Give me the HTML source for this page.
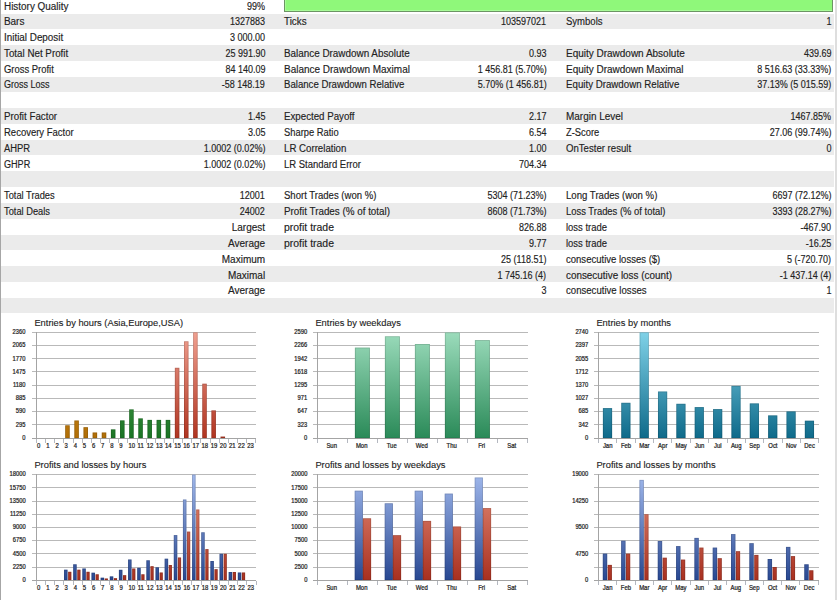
<!DOCTYPE html>
<html><head><meta charset="utf-8"><style>
html,body{margin:0;padding:0;background:#fff;}
body{width:837px;height:600px;position:relative;overflow:hidden;font-family:"Liberation Sans",sans-serif;}
.r{position:absolute;left:1px;width:833px;}
.g{background:#ebebeb;}
.t{position:absolute;font-size:10px;color:#222;-webkit-text-stroke:0.15px #222;white-space:pre;line-height:12px;}
.l{text-align:left;}
.n{transform:scaleX(0.9);transform-origin:right center;}
</style></head><body>

<div class="r g" style="top:13.60px;height:15.6px"></div>
<div class="r g" style="top:45.16px;height:15.6px"></div>
<div class="r g" style="top:76.72px;height:15.6px"></div>
<div class="r g" style="top:108.28px;height:15.6px"></div>
<div class="r g" style="top:139.84px;height:15.6px"></div>
<div class="r g" style="top:171.40px;height:15.6px"></div>
<div class="r g" style="top:202.96px;height:15.6px"></div>
<div class="r g" style="top:234.52px;height:15.6px"></div>
<div class="r g" style="top:266.08px;height:15.6px"></div>
<div class="r g" style="top:297.64px;height:15.6px"></div>
<div class="t" style="left:3.9px;top:1.06px;transform:scaleX(0.992);transform-origin:left center;">History Quality</div>
<div class="t n" style="right:571.90px;top:1.06px">99%</div>
<div class="t" style="left:3.9px;top:16.10px;">Bars</div>
<div class="t n" style="right:571.90px;top:16.10px">1327883</div>
<div class="t" style="left:284.4px;top:16.10px;transform:scaleX(0.983);transform-origin:left center;">Ticks</div>
<div class="t n" style="right:290.70px;top:16.10px">103597021</div>
<div class="t" style="left:566.3px;top:16.10px;transform:scaleX(0.953);transform-origin:left center;">Symbols</div>
<div class="t n" style="right:5.90px;top:16.10px">1</div>
<div class="t" style="left:3.9px;top:31.94px;transform:scaleX(0.986);transform-origin:left center;">Initial Deposit</div>
<div class="t n" style="right:571.90px;top:31.94px">3 000.00</div>
<div class="t" style="left:3.9px;top:47.78px;transform:scaleX(0.979);transform-origin:left center;">Total Net Profit</div>
<div class="t n" style="right:571.90px;top:47.78px">25 991.90</div>
<div class="t" style="left:284.4px;top:47.78px;transform:scaleX(0.988);transform-origin:left center;">Balance Drawdown Absolute</div>
<div class="t n" style="right:290.70px;top:47.78px">0.93</div>
<div class="t" style="left:566.3px;top:47.78px;transform:scaleX(0.998);transform-origin:left center;">Equity Drawdown Absolute</div>
<div class="t n" style="right:5.90px;top:47.78px">439.69</div>
<div class="t" style="left:3.9px;top:63.62px;transform:scaleX(0.943);transform-origin:left center;">Gross Profit</div>
<div class="t n" style="right:571.90px;top:63.62px">84 140.09</div>
<div class="t" style="left:284.4px;top:63.62px;transform:scaleX(0.998);transform-origin:left center;">Balance Drawdown Maximal</div>
<div class="t n" style="right:290.70px;top:63.62px">1 456.81 (5.70%)</div>
<div class="t" style="left:566.3px;top:63.62px;transform:scaleX(0.997);transform-origin:left center;">Equity Drawdown Maximal</div>
<div class="t n" style="right:5.90px;top:63.62px">8 516.63 (33.33%)</div>
<div class="t" style="left:3.9px;top:79.46px;transform:scaleX(0.902);transform-origin:left center;">Gross Loss</div>
<div class="t n" style="right:571.90px;top:79.46px">-58 148.19</div>
<div class="t" style="left:284.4px;top:79.46px;transform:scaleX(0.962);transform-origin:left center;">Balance Drawdown Relative</div>
<div class="t n" style="right:290.70px;top:79.46px">5.70% (1 456.81)</div>
<div class="t" style="left:566.3px;top:79.46px;transform:scaleX(0.971);transform-origin:left center;">Equity Drawdown Relative</div>
<div class="t n" style="right:5.90px;top:79.46px">37.13% (5 015.59)</div>
<div class="t" style="left:3.9px;top:111.14px;transform:scaleX(0.974);transform-origin:left center;">Profit Factor</div>
<div class="t n" style="right:571.90px;top:111.14px">1.45</div>
<div class="t" style="left:284.4px;top:111.14px;transform:scaleX(0.971);transform-origin:left center;">Expected Payoff</div>
<div class="t n" style="right:290.70px;top:111.14px">2.17</div>
<div class="t" style="left:566.3px;top:111.14px;transform:scaleX(0.995);transform-origin:left center;">Margin Level</div>
<div class="t n" style="right:5.90px;top:111.14px">1467.85%</div>
<div class="t" style="left:3.9px;top:126.98px;transform:scaleX(0.949);transform-origin:left center;">Recovery Factor</div>
<div class="t n" style="right:571.90px;top:126.98px">3.05</div>
<div class="t" style="left:284.4px;top:126.98px;transform:scaleX(0.936);transform-origin:left center;">Sharpe Ratio</div>
<div class="t n" style="right:290.70px;top:126.98px">6.54</div>
<div class="t" style="left:566.3px;top:126.98px;transform:scaleX(0.936);transform-origin:left center;">Z-Score</div>
<div class="t n" style="right:5.90px;top:126.98px">27.06 (99.74%)</div>
<div class="t" style="left:3.9px;top:142.82px;transform:scaleX(0.941);transform-origin:left center;">AHPR</div>
<div class="t n" style="right:571.90px;top:142.82px">1.0002 (0.02%)</div>
<div class="t" style="left:284.4px;top:142.82px;transform:scaleX(0.967);transform-origin:left center;">LR Correlation</div>
<div class="t n" style="right:290.70px;top:142.82px">1.00</div>
<div class="t" style="left:566.3px;top:142.82px;transform:scaleX(0.96);transform-origin:left center;">OnTester result</div>
<div class="t n" style="right:5.90px;top:142.82px">0</div>
<div class="t" style="left:3.9px;top:158.66px;transform:scaleX(0.907);transform-origin:left center;">GHPR</div>
<div class="t n" style="right:571.90px;top:158.66px">1.0002 (0.02%)</div>
<div class="t" style="left:284.4px;top:158.66px;transform:scaleX(0.948);transform-origin:left center;">LR Standard Error</div>
<div class="t n" style="right:290.70px;top:158.66px">704.34</div>
<div class="t" style="left:3.9px;top:190.34px;transform:scaleX(0.93);transform-origin:left center;">Total Trades</div>
<div class="t n" style="right:571.90px;top:190.34px">12001</div>
<div class="t" style="left:284.4px;top:190.34px;transform:scaleX(0.955);transform-origin:left center;">Short Trades (won %)</div>
<div class="t n" style="right:290.70px;top:190.34px">5304 (71.23%)</div>
<div class="t" style="left:566.3px;top:190.34px;transform:scaleX(0.961);transform-origin:left center;">Long Trades (won %)</div>
<div class="t n" style="right:5.90px;top:190.34px">6697 (72.12%)</div>
<div class="t" style="left:3.9px;top:206.18px;transform:scaleX(0.929);transform-origin:left center;">Total Deals</div>
<div class="t n" style="right:571.90px;top:206.18px">24002</div>
<div class="t" style="left:284.4px;top:206.18px;transform:scaleX(0.983);transform-origin:left center;">Profit Trades (% of total)</div>
<div class="t n" style="right:290.70px;top:206.18px">8608 (71.73%)</div>
<div class="t" style="left:566.3px;top:206.18px;transform:scaleX(0.942);transform-origin:left center;">Loss Trades (% of total)</div>
<div class="t n" style="right:5.90px;top:206.18px">3393 (28.27%)</div>
<div class="t" style="right:571.90px;top:222.02px">Largest</div>
<div class="t" style="left:284.4px;top:222.02px;transform:scaleX(1.045);transform-origin:left center;">profit trade</div>
<div class="t n" style="right:290.70px;top:222.02px">826.88</div>
<div class="t" style="left:566.3px;top:222.02px;transform:scaleX(0.944);transform-origin:left center;">loss trade</div>
<div class="t n" style="right:5.90px;top:222.02px">-467.90</div>
<div class="t" style="right:571.90px;top:237.86px">Average</div>
<div class="t" style="left:284.4px;top:237.86px;transform:scaleX(1.045);transform-origin:left center;">profit trade</div>
<div class="t n" style="right:290.70px;top:237.86px">9.77</div>
<div class="t" style="left:566.3px;top:237.86px;transform:scaleX(0.944);transform-origin:left center;">loss trade</div>
<div class="t n" style="right:5.90px;top:237.86px">-16.25</div>
<div class="t" style="right:571.90px;top:253.70px">Maximum</div>
<div class="t n" style="right:290.70px;top:253.70px">25 (118.51)</div>
<div class="t" style="left:566.3px;top:253.70px;transform:scaleX(0.953);transform-origin:left center;">consecutive losses ($)</div>
<div class="t n" style="right:5.90px;top:253.70px">5 (-720.70)</div>
<div class="t" style="right:571.90px;top:269.54px">Maximal</div>
<div class="t n" style="right:290.70px;top:269.54px">1 745.16 (4)</div>
<div class="t" style="left:566.3px;top:269.54px;transform:scaleX(0.988);transform-origin:left center;">consecutive loss (count)</div>
<div class="t n" style="right:5.90px;top:269.54px">-1 437.14 (4)</div>
<div class="t" style="right:571.90px;top:285.38px">Average</div>
<div class="t n" style="right:290.70px;top:285.38px">3</div>
<div class="t" style="left:566.3px;top:285.38px;transform:scaleX(0.96);transform-origin:left center;">consecutive losses</div>
<div class="t n" style="right:5.90px;top:285.38px">1</div>
<div style="position:absolute;left:284px;top:-3px;width:549px;height:15px;background:#6c9464;"></div>
<div style="position:absolute;left:285px;top:-3px;width:547px;height:14px;background:#a8fb98;"></div>
<div style="position:absolute;left:286px;top:-3px;width:546px;height:13px;background:#8ff87a;"></div>
<div style="position:absolute;left:0;top:0;width:1px;height:600px;background:#a6a6a6"></div>
<div style="position:absolute;left:835px;top:0;width:2px;height:600px;background:#dedede"></div>
<svg width="837" height="600" style="position:absolute;left:0;top:0">
<defs>
<linearGradient id="gOr" gradientUnits="userSpaceOnUse" x1="0" y1="332" x2="0" y2="438"><stop offset="0" stop-color="#e8a030"/><stop offset="1" stop-color="#b06e06"/></linearGradient>
<linearGradient id="gGr" gradientUnits="userSpaceOnUse" x1="0" y1="332" x2="0" y2="438"><stop offset="0" stop-color="#60b060"/><stop offset="1" stop-color="#1a7424"/></linearGradient>
<linearGradient id="gRd" gradientUnits="userSpaceOnUse" x1="0" y1="332" x2="0" y2="438"><stop offset="0" stop-color="#f0a090"/><stop offset="1" stop-color="#b03420"/></linearGradient>
<linearGradient id="gMt" gradientUnits="userSpaceOnUse" x1="0" y1="332" x2="0" y2="438"><stop offset="0" stop-color="#9cdcbc"/><stop offset="1" stop-color="#2a8a58"/></linearGradient>
<linearGradient id="gTl" gradientUnits="userSpaceOnUse" x1="0" y1="332" x2="0" y2="438"><stop offset="0" stop-color="#80d2e8"/><stop offset="1" stop-color="#0e6a8a"/></linearGradient>
<linearGradient id="gBl" gradientUnits="userSpaceOnUse" x1="0" y1="474" x2="0" y2="580"><stop offset="0" stop-color="#a0b8ec"/><stop offset="1" stop-color="#284892"/></linearGradient>
<linearGradient id="gRl" gradientUnits="userSpaceOnUse" x1="0" y1="474" x2="0" y2="580"><stop offset="0" stop-color="#e8907a"/><stop offset="1" stop-color="#a83020"/></linearGradient>
</defs>
<text x="34.40" y="325.60" font-size="9.4" fill="#222" stroke="#222" stroke-width="0.12" transform="translate(34.40,0) scale(0.992,1) translate(-34.40,0)">Entries by hours (Asia,Europe,USA)</text>
<rect x="32" y="332" width="224" height="1" fill="#b9b9b9"/>
<rect x="32" y="345" width="224" height="1" fill="#b9b9b9"/>
<rect x="32" y="358" width="224" height="1" fill="#b9b9b9"/>
<rect x="32" y="371" width="224" height="1" fill="#b9b9b9"/>
<rect x="32" y="385" width="224" height="1" fill="#b9b9b9"/>
<rect x="32" y="398" width="224" height="1" fill="#b9b9b9"/>
<rect x="32" y="411" width="224" height="1" fill="#b9b9b9"/>
<rect x="32" y="424" width="224" height="1" fill="#b9b9b9"/>
<rect x="32" y="438" width="224" height="1" fill="#b9b9b9"/>
<text x="25.50" y="334.10" font-size="7" fill="#1e1e1e" stroke="#1e1e1e" stroke-width="0.25" text-anchor="end" transform="translate(25.50,0) scale(0.83,1) translate(-25.50,0)">2360</text>
<text x="25.50" y="347.31" font-size="7" fill="#1e1e1e" stroke="#1e1e1e" stroke-width="0.25" text-anchor="end" transform="translate(25.50,0) scale(0.83,1) translate(-25.50,0)">2065</text>
<text x="25.50" y="360.53" font-size="7" fill="#1e1e1e" stroke="#1e1e1e" stroke-width="0.25" text-anchor="end" transform="translate(25.50,0) scale(0.83,1) translate(-25.50,0)">1770</text>
<text x="25.50" y="373.74" font-size="7" fill="#1e1e1e" stroke="#1e1e1e" stroke-width="0.25" text-anchor="end" transform="translate(25.50,0) scale(0.83,1) translate(-25.50,0)">1475</text>
<text x="25.50" y="386.95" font-size="7" fill="#1e1e1e" stroke="#1e1e1e" stroke-width="0.25" text-anchor="end" transform="translate(25.50,0) scale(0.83,1) translate(-25.50,0)">1180</text>
<text x="25.50" y="400.16" font-size="7" fill="#1e1e1e" stroke="#1e1e1e" stroke-width="0.25" text-anchor="end" transform="translate(25.50,0) scale(0.83,1) translate(-25.50,0)">885</text>
<text x="25.50" y="413.38" font-size="7" fill="#1e1e1e" stroke="#1e1e1e" stroke-width="0.25" text-anchor="end" transform="translate(25.50,0) scale(0.83,1) translate(-25.50,0)">590</text>
<text x="25.50" y="426.59" font-size="7" fill="#1e1e1e" stroke="#1e1e1e" stroke-width="0.25" text-anchor="end" transform="translate(25.50,0) scale(0.83,1) translate(-25.50,0)">295</text>
<text x="25.50" y="439.80" font-size="7" fill="#1e1e1e" stroke="#1e1e1e" stroke-width="0.25" text-anchor="end" transform="translate(25.50,0) scale(0.83,1) translate(-25.50,0)">0</text>
<rect x="36" y="332" width="1" height="111" fill="#a4a4a4"/>
<rect x="32" y="438" width="224" height="1" fill="#a4a4a4"/>
<rect x="36" y="439" width="1" height="4" fill="#b4b8c0"/>
<rect x="45" y="439" width="1" height="4" fill="#b4b8c0"/>
<rect x="54" y="439" width="1" height="4" fill="#b4b8c0"/>
<rect x="63" y="439" width="1" height="4" fill="#b4b8c0"/>
<rect x="73" y="439" width="1" height="4" fill="#b4b8c0"/>
<rect x="82" y="439" width="1" height="4" fill="#b4b8c0"/>
<rect x="91" y="439" width="1" height="4" fill="#b4b8c0"/>
<rect x="100" y="439" width="1" height="4" fill="#b4b8c0"/>
<rect x="109" y="439" width="1" height="4" fill="#b4b8c0"/>
<rect x="118" y="439" width="1" height="4" fill="#b4b8c0"/>
<rect x="127" y="439" width="1" height="4" fill="#b4b8c0"/>
<rect x="137" y="439" width="1" height="4" fill="#b4b8c0"/>
<rect x="146" y="439" width="1" height="4" fill="#b4b8c0"/>
<rect x="155" y="439" width="1" height="4" fill="#b4b8c0"/>
<rect x="164" y="439" width="1" height="4" fill="#b4b8c0"/>
<rect x="173" y="439" width="1" height="4" fill="#b4b8c0"/>
<rect x="182" y="439" width="1" height="4" fill="#b4b8c0"/>
<rect x="191" y="439" width="1" height="4" fill="#b4b8c0"/>
<rect x="200" y="439" width="1" height="4" fill="#b4b8c0"/>
<rect x="210" y="439" width="1" height="4" fill="#b4b8c0"/>
<rect x="219" y="439" width="1" height="4" fill="#b4b8c0"/>
<rect x="228" y="439" width="1" height="4" fill="#b4b8c0"/>
<rect x="237" y="439" width="1" height="4" fill="#b4b8c0"/>
<rect x="246" y="439" width="1" height="4" fill="#b4b8c0"/>
<rect x="255" y="439" width="1" height="4" fill="#b4b8c0"/>
<text x="37.10" y="447.80" font-size="7" fill="#1e1e1e" stroke="#1e1e1e" stroke-width="0.25" transform="translate(37.10,0) scale(0.85,1) translate(-37.10,0)">0</text>
<text x="46.24" y="447.80" font-size="7" fill="#1e1e1e" stroke="#1e1e1e" stroke-width="0.25" transform="translate(46.24,0) scale(0.85,1) translate(-46.24,0)">1</text>
<text x="55.38" y="447.80" font-size="7" fill="#1e1e1e" stroke="#1e1e1e" stroke-width="0.25" transform="translate(55.38,0) scale(0.85,1) translate(-55.38,0)">2</text>
<text x="64.51" y="447.80" font-size="7" fill="#1e1e1e" stroke="#1e1e1e" stroke-width="0.25" transform="translate(64.51,0) scale(0.85,1) translate(-64.51,0)">3</text>
<text x="73.65" y="447.80" font-size="7" fill="#1e1e1e" stroke="#1e1e1e" stroke-width="0.25" transform="translate(73.65,0) scale(0.85,1) translate(-73.65,0)">4</text>
<text x="82.79" y="447.80" font-size="7" fill="#1e1e1e" stroke="#1e1e1e" stroke-width="0.25" transform="translate(82.79,0) scale(0.85,1) translate(-82.79,0)">5</text>
<text x="91.92" y="447.80" font-size="7" fill="#1e1e1e" stroke="#1e1e1e" stroke-width="0.25" transform="translate(91.92,0) scale(0.85,1) translate(-91.92,0)">6</text>
<text x="101.06" y="447.80" font-size="7" fill="#1e1e1e" stroke="#1e1e1e" stroke-width="0.25" transform="translate(101.06,0) scale(0.85,1) translate(-101.06,0)">7</text>
<text x="110.20" y="447.80" font-size="7" fill="#1e1e1e" stroke="#1e1e1e" stroke-width="0.25" transform="translate(110.20,0) scale(0.85,1) translate(-110.20,0)">8</text>
<text x="119.34" y="447.80" font-size="7" fill="#1e1e1e" stroke="#1e1e1e" stroke-width="0.25" transform="translate(119.34,0) scale(0.85,1) translate(-119.34,0)">9</text>
<text x="128.48" y="447.80" font-size="7" fill="#1e1e1e" stroke="#1e1e1e" stroke-width="0.25" transform="translate(128.48,0) scale(0.85,1) translate(-128.48,0)">10</text>
<text x="137.61" y="447.80" font-size="7" fill="#1e1e1e" stroke="#1e1e1e" stroke-width="0.25" transform="translate(137.61,0) scale(0.85,1) translate(-137.61,0)">11</text>
<text x="146.75" y="447.80" font-size="7" fill="#1e1e1e" stroke="#1e1e1e" stroke-width="0.25" transform="translate(146.75,0) scale(0.85,1) translate(-146.75,0)">12</text>
<text x="155.89" y="447.80" font-size="7" fill="#1e1e1e" stroke="#1e1e1e" stroke-width="0.25" transform="translate(155.89,0) scale(0.85,1) translate(-155.89,0)">13</text>
<text x="165.03" y="447.80" font-size="7" fill="#1e1e1e" stroke="#1e1e1e" stroke-width="0.25" transform="translate(165.03,0) scale(0.85,1) translate(-165.03,0)">14</text>
<text x="174.16" y="447.80" font-size="7" fill="#1e1e1e" stroke="#1e1e1e" stroke-width="0.25" transform="translate(174.16,0) scale(0.85,1) translate(-174.16,0)">15</text>
<text x="183.30" y="447.80" font-size="7" fill="#1e1e1e" stroke="#1e1e1e" stroke-width="0.25" transform="translate(183.30,0) scale(0.85,1) translate(-183.30,0)">16</text>
<text x="192.44" y="447.80" font-size="7" fill="#1e1e1e" stroke="#1e1e1e" stroke-width="0.25" transform="translate(192.44,0) scale(0.85,1) translate(-192.44,0)">17</text>
<text x="201.58" y="447.80" font-size="7" fill="#1e1e1e" stroke="#1e1e1e" stroke-width="0.25" transform="translate(201.58,0) scale(0.85,1) translate(-201.58,0)">18</text>
<text x="210.71" y="447.80" font-size="7" fill="#1e1e1e" stroke="#1e1e1e" stroke-width="0.25" transform="translate(210.71,0) scale(0.85,1) translate(-210.71,0)">19</text>
<text x="219.85" y="447.80" font-size="7" fill="#1e1e1e" stroke="#1e1e1e" stroke-width="0.25" transform="translate(219.85,0) scale(0.85,1) translate(-219.85,0)">20</text>
<text x="228.99" y="447.80" font-size="7" fill="#1e1e1e" stroke="#1e1e1e" stroke-width="0.25" transform="translate(228.99,0) scale(0.85,1) translate(-228.99,0)">21</text>
<text x="238.13" y="447.80" font-size="7" fill="#1e1e1e" stroke="#1e1e1e" stroke-width="0.25" transform="translate(238.13,0) scale(0.85,1) translate(-238.13,0)">22</text>
<text x="247.26" y="447.80" font-size="7" fill="#1e1e1e" stroke="#1e1e1e" stroke-width="0.25" transform="translate(247.26,0) scale(0.85,1) translate(-247.26,0)">23</text>
<rect x="65.21" y="425.30" width="4.50" height="12.70" fill="url(#gOr)"/>
<rect x="65.61" y="425.70" width="3.70" height="12.30" fill="none" stroke="#000" stroke-opacity="0.16" stroke-width="0.8"/>
<rect x="74.35" y="420.50" width="4.50" height="17.50" fill="url(#gOr)"/>
<rect x="74.75" y="420.90" width="3.70" height="17.10" fill="none" stroke="#000" stroke-opacity="0.16" stroke-width="0.8"/>
<rect x="83.49" y="427.20" width="4.50" height="10.80" fill="url(#gOr)"/>
<rect x="83.89" y="427.60" width="3.70" height="10.40" fill="none" stroke="#000" stroke-opacity="0.16" stroke-width="0.8"/>
<rect x="92.62" y="432.50" width="4.50" height="5.50" fill="url(#gOr)"/>
<rect x="93.03" y="432.90" width="3.70" height="5.10" fill="none" stroke="#000" stroke-opacity="0.16" stroke-width="0.8"/>
<rect x="101.76" y="432.50" width="4.50" height="5.50" fill="url(#gOr)"/>
<rect x="102.16" y="432.90" width="3.70" height="5.10" fill="none" stroke="#000" stroke-opacity="0.16" stroke-width="0.8"/>
<rect x="110.90" y="429.40" width="4.50" height="8.60" fill="url(#gGr)"/>
<rect x="111.30" y="429.80" width="3.70" height="8.20" fill="none" stroke="#000" stroke-opacity="0.16" stroke-width="0.8"/>
<rect x="120.04" y="420.40" width="4.50" height="17.60" fill="url(#gGr)"/>
<rect x="120.44" y="420.80" width="3.70" height="17.20" fill="none" stroke="#000" stroke-opacity="0.16" stroke-width="0.8"/>
<rect x="129.18" y="409.40" width="4.50" height="28.60" fill="url(#gGr)"/>
<rect x="129.58" y="409.80" width="3.70" height="28.20" fill="none" stroke="#000" stroke-opacity="0.16" stroke-width="0.8"/>
<rect x="138.31" y="418.40" width="4.50" height="19.60" fill="url(#gGr)"/>
<rect x="138.71" y="418.80" width="3.70" height="19.20" fill="none" stroke="#000" stroke-opacity="0.16" stroke-width="0.8"/>
<rect x="147.45" y="419.90" width="4.50" height="18.10" fill="url(#gGr)"/>
<rect x="147.85" y="420.30" width="3.70" height="17.70" fill="none" stroke="#000" stroke-opacity="0.16" stroke-width="0.8"/>
<rect x="156.59" y="419.90" width="4.50" height="18.10" fill="url(#gGr)"/>
<rect x="156.99" y="420.30" width="3.70" height="17.70" fill="none" stroke="#000" stroke-opacity="0.16" stroke-width="0.8"/>
<rect x="165.73" y="419.90" width="4.50" height="18.10" fill="url(#gGr)"/>
<rect x="166.13" y="420.30" width="3.70" height="17.70" fill="none" stroke="#000" stroke-opacity="0.16" stroke-width="0.8"/>
<rect x="174.86" y="367.80" width="4.50" height="70.20" fill="url(#gRd)"/>
<rect x="175.26" y="368.20" width="3.70" height="69.80" fill="none" stroke="#000" stroke-opacity="0.16" stroke-width="0.8"/>
<rect x="184.00" y="341.30" width="4.50" height="96.70" fill="url(#gRd)"/>
<rect x="184.40" y="341.70" width="3.70" height="96.30" fill="none" stroke="#000" stroke-opacity="0.16" stroke-width="0.8"/>
<rect x="193.14" y="332.30" width="4.50" height="105.70" fill="url(#gRd)"/>
<rect x="193.54" y="332.70" width="3.70" height="105.30" fill="none" stroke="#000" stroke-opacity="0.16" stroke-width="0.8"/>
<rect x="202.28" y="383.70" width="4.50" height="54.30" fill="url(#gRd)"/>
<rect x="202.68" y="384.10" width="3.70" height="53.90" fill="none" stroke="#000" stroke-opacity="0.16" stroke-width="0.8"/>
<rect x="211.41" y="410.40" width="4.50" height="27.60" fill="url(#gRd)"/>
<rect x="211.81" y="410.80" width="3.70" height="27.20" fill="none" stroke="#000" stroke-opacity="0.16" stroke-width="0.8"/>
<rect x="220.55" y="436.60" width="4.50" height="1.40" fill="url(#gRd)"/>
<rect x="220.95" y="437.00" width="3.70" height="1.00" fill="none" stroke="#000" stroke-opacity="0.16" stroke-width="0.8"/>
<text x="315.40" y="325.60" font-size="9.4" fill="#222" stroke="#222" stroke-width="0.12" transform="translate(315.40,0) scale(0.992,1) translate(-315.40,0)">Entries by weekdays</text>
<rect x="313" y="332" width="215" height="1" fill="#b9b9b9"/>
<rect x="313" y="345" width="215" height="1" fill="#b9b9b9"/>
<rect x="313" y="358" width="215" height="1" fill="#b9b9b9"/>
<rect x="313" y="371" width="215" height="1" fill="#b9b9b9"/>
<rect x="313" y="385" width="215" height="1" fill="#b9b9b9"/>
<rect x="313" y="398" width="215" height="1" fill="#b9b9b9"/>
<rect x="313" y="411" width="215" height="1" fill="#b9b9b9"/>
<rect x="313" y="424" width="215" height="1" fill="#b9b9b9"/>
<rect x="313" y="438" width="215" height="1" fill="#b9b9b9"/>
<text x="307.30" y="334.10" font-size="7" fill="#1e1e1e" stroke="#1e1e1e" stroke-width="0.25" text-anchor="end" transform="translate(307.30,0) scale(0.83,1) translate(-307.30,0)">2590</text>
<text x="307.30" y="347.31" font-size="7" fill="#1e1e1e" stroke="#1e1e1e" stroke-width="0.25" text-anchor="end" transform="translate(307.30,0) scale(0.83,1) translate(-307.30,0)">2266</text>
<text x="307.30" y="360.53" font-size="7" fill="#1e1e1e" stroke="#1e1e1e" stroke-width="0.25" text-anchor="end" transform="translate(307.30,0) scale(0.83,1) translate(-307.30,0)">1942</text>
<text x="307.30" y="373.74" font-size="7" fill="#1e1e1e" stroke="#1e1e1e" stroke-width="0.25" text-anchor="end" transform="translate(307.30,0) scale(0.83,1) translate(-307.30,0)">1618</text>
<text x="307.30" y="386.95" font-size="7" fill="#1e1e1e" stroke="#1e1e1e" stroke-width="0.25" text-anchor="end" transform="translate(307.30,0) scale(0.83,1) translate(-307.30,0)">1295</text>
<text x="307.30" y="400.16" font-size="7" fill="#1e1e1e" stroke="#1e1e1e" stroke-width="0.25" text-anchor="end" transform="translate(307.30,0) scale(0.83,1) translate(-307.30,0)">971</text>
<text x="307.30" y="413.38" font-size="7" fill="#1e1e1e" stroke="#1e1e1e" stroke-width="0.25" text-anchor="end" transform="translate(307.30,0) scale(0.83,1) translate(-307.30,0)">647</text>
<text x="307.30" y="426.59" font-size="7" fill="#1e1e1e" stroke="#1e1e1e" stroke-width="0.25" text-anchor="end" transform="translate(307.30,0) scale(0.83,1) translate(-307.30,0)">323</text>
<text x="307.30" y="439.80" font-size="7" fill="#1e1e1e" stroke="#1e1e1e" stroke-width="0.25" text-anchor="end" transform="translate(307.30,0) scale(0.83,1) translate(-307.30,0)">0</text>
<rect x="317" y="332" width="1" height="111" fill="#a4a4a4"/>
<rect x="313" y="438" width="215" height="1" fill="#a4a4a4"/>
<rect x="317" y="439" width="1" height="4" fill="#b4b8c0"/>
<rect x="347" y="439" width="1" height="4" fill="#b4b8c0"/>
<rect x="377" y="439" width="1" height="4" fill="#b4b8c0"/>
<rect x="407" y="439" width="1" height="4" fill="#b4b8c0"/>
<rect x="437" y="439" width="1" height="4" fill="#b4b8c0"/>
<rect x="467" y="439" width="1" height="4" fill="#b4b8c0"/>
<rect x="497" y="439" width="1" height="4" fill="#b4b8c0"/>
<rect x="527" y="439" width="1" height="4" fill="#b4b8c0"/>
<text x="331.70" y="447.80" font-size="7" fill="#1e1e1e" stroke="#1e1e1e" stroke-width="0.25" text-anchor="middle" transform="translate(331.70,0) scale(0.85,1) translate(-331.70,0)">Sun</text>
<text x="361.70" y="447.80" font-size="7" fill="#1e1e1e" stroke="#1e1e1e" stroke-width="0.25" text-anchor="middle" transform="translate(361.70,0) scale(0.85,1) translate(-361.70,0)">Mon</text>
<text x="391.70" y="447.80" font-size="7" fill="#1e1e1e" stroke="#1e1e1e" stroke-width="0.25" text-anchor="middle" transform="translate(391.70,0) scale(0.85,1) translate(-391.70,0)">Tue</text>
<text x="421.70" y="447.80" font-size="7" fill="#1e1e1e" stroke="#1e1e1e" stroke-width="0.25" text-anchor="middle" transform="translate(421.70,0) scale(0.85,1) translate(-421.70,0)">Wed</text>
<text x="451.70" y="447.80" font-size="7" fill="#1e1e1e" stroke="#1e1e1e" stroke-width="0.25" text-anchor="middle" transform="translate(451.70,0) scale(0.85,1) translate(-451.70,0)">Thu</text>
<text x="481.70" y="447.80" font-size="7" fill="#1e1e1e" stroke="#1e1e1e" stroke-width="0.25" text-anchor="middle" transform="translate(481.70,0) scale(0.85,1) translate(-481.70,0)">Fri</text>
<text x="511.70" y="447.80" font-size="7" fill="#1e1e1e" stroke="#1e1e1e" stroke-width="0.25" text-anchor="middle" transform="translate(511.70,0) scale(0.85,1) translate(-511.70,0)">Sat</text>
<rect x="354.90" y="347.60" width="15.00" height="90.40" fill="url(#gMt)"/>
<rect x="355.30" y="348.00" width="14.20" height="90.00" fill="none" stroke="#000" stroke-opacity="0.16" stroke-width="0.8"/>
<rect x="384.90" y="336.30" width="15.00" height="101.70" fill="url(#gMt)"/>
<rect x="385.30" y="336.70" width="14.20" height="101.30" fill="none" stroke="#000" stroke-opacity="0.16" stroke-width="0.8"/>
<rect x="414.90" y="344.00" width="15.00" height="94.00" fill="url(#gMt)"/>
<rect x="415.30" y="344.40" width="14.20" height="93.60" fill="none" stroke="#000" stroke-opacity="0.16" stroke-width="0.8"/>
<rect x="444.90" y="332.40" width="15.00" height="105.60" fill="url(#gMt)"/>
<rect x="445.30" y="332.80" width="14.20" height="105.20" fill="none" stroke="#000" stroke-opacity="0.16" stroke-width="0.8"/>
<rect x="474.90" y="340.10" width="15.00" height="97.90" fill="url(#gMt)"/>
<rect x="475.30" y="340.50" width="14.20" height="97.50" fill="none" stroke="#000" stroke-opacity="0.16" stroke-width="0.8"/>
<text x="596.40" y="325.60" font-size="9.4" fill="#222" stroke="#222" stroke-width="0.12" transform="translate(596.40,0) scale(0.992,1) translate(-596.40,0)">Entries by months</text>
<rect x="594" y="332" width="225" height="1" fill="#b9b9b9"/>
<rect x="594" y="345" width="225" height="1" fill="#b9b9b9"/>
<rect x="594" y="358" width="225" height="1" fill="#b9b9b9"/>
<rect x="594" y="371" width="225" height="1" fill="#b9b9b9"/>
<rect x="594" y="385" width="225" height="1" fill="#b9b9b9"/>
<rect x="594" y="398" width="225" height="1" fill="#b9b9b9"/>
<rect x="594" y="411" width="225" height="1" fill="#b9b9b9"/>
<rect x="594" y="424" width="225" height="1" fill="#b9b9b9"/>
<rect x="594" y="438" width="225" height="1" fill="#b9b9b9"/>
<text x="588.30" y="334.10" font-size="7" fill="#1e1e1e" stroke="#1e1e1e" stroke-width="0.25" text-anchor="end" transform="translate(588.30,0) scale(0.83,1) translate(-588.30,0)">2740</text>
<text x="588.30" y="347.31" font-size="7" fill="#1e1e1e" stroke="#1e1e1e" stroke-width="0.25" text-anchor="end" transform="translate(588.30,0) scale(0.83,1) translate(-588.30,0)">2397</text>
<text x="588.30" y="360.53" font-size="7" fill="#1e1e1e" stroke="#1e1e1e" stroke-width="0.25" text-anchor="end" transform="translate(588.30,0) scale(0.83,1) translate(-588.30,0)">2055</text>
<text x="588.30" y="373.74" font-size="7" fill="#1e1e1e" stroke="#1e1e1e" stroke-width="0.25" text-anchor="end" transform="translate(588.30,0) scale(0.83,1) translate(-588.30,0)">1712</text>
<text x="588.30" y="386.95" font-size="7" fill="#1e1e1e" stroke="#1e1e1e" stroke-width="0.25" text-anchor="end" transform="translate(588.30,0) scale(0.83,1) translate(-588.30,0)">1370</text>
<text x="588.30" y="400.16" font-size="7" fill="#1e1e1e" stroke="#1e1e1e" stroke-width="0.25" text-anchor="end" transform="translate(588.30,0) scale(0.83,1) translate(-588.30,0)">1027</text>
<text x="588.30" y="413.38" font-size="7" fill="#1e1e1e" stroke="#1e1e1e" stroke-width="0.25" text-anchor="end" transform="translate(588.30,0) scale(0.83,1) translate(-588.30,0)">685</text>
<text x="588.30" y="426.59" font-size="7" fill="#1e1e1e" stroke="#1e1e1e" stroke-width="0.25" text-anchor="end" transform="translate(588.30,0) scale(0.83,1) translate(-588.30,0)">342</text>
<text x="588.30" y="439.80" font-size="7" fill="#1e1e1e" stroke="#1e1e1e" stroke-width="0.25" text-anchor="end" transform="translate(588.30,0) scale(0.83,1) translate(-588.30,0)">0</text>
<rect x="598" y="332" width="1" height="111" fill="#a4a4a4"/>
<rect x="594" y="438" width="225" height="1" fill="#a4a4a4"/>
<rect x="598" y="439" width="1" height="4" fill="#b4b8c0"/>
<rect x="616" y="439" width="1" height="4" fill="#b4b8c0"/>
<rect x="635" y="439" width="1" height="4" fill="#b4b8c0"/>
<rect x="653" y="439" width="1" height="4" fill="#b4b8c0"/>
<rect x="671" y="439" width="1" height="4" fill="#b4b8c0"/>
<rect x="690" y="439" width="1" height="4" fill="#b4b8c0"/>
<rect x="708" y="439" width="1" height="4" fill="#b4b8c0"/>
<rect x="727" y="439" width="1" height="4" fill="#b4b8c0"/>
<rect x="745" y="439" width="1" height="4" fill="#b4b8c0"/>
<rect x="763" y="439" width="1" height="4" fill="#b4b8c0"/>
<rect x="782" y="439" width="1" height="4" fill="#b4b8c0"/>
<rect x="800" y="439" width="1" height="4" fill="#b4b8c0"/>
<rect x="818" y="439" width="1" height="4" fill="#b4b8c0"/>
<text x="607.68" y="447.80" font-size="7" fill="#1e1e1e" stroke="#1e1e1e" stroke-width="0.25" text-anchor="middle" transform="translate(607.68,0) scale(0.85,1) translate(-607.68,0)">Jan</text>
<text x="626.04" y="447.80" font-size="7" fill="#1e1e1e" stroke="#1e1e1e" stroke-width="0.25" text-anchor="middle" transform="translate(626.04,0) scale(0.85,1) translate(-626.04,0)">Feb</text>
<text x="644.40" y="447.80" font-size="7" fill="#1e1e1e" stroke="#1e1e1e" stroke-width="0.25" text-anchor="middle" transform="translate(644.40,0) scale(0.85,1) translate(-644.40,0)">Mar</text>
<text x="662.75" y="447.80" font-size="7" fill="#1e1e1e" stroke="#1e1e1e" stroke-width="0.25" text-anchor="middle" transform="translate(662.75,0) scale(0.85,1) translate(-662.75,0)">Apr</text>
<text x="681.11" y="447.80" font-size="7" fill="#1e1e1e" stroke="#1e1e1e" stroke-width="0.25" text-anchor="middle" transform="translate(681.11,0) scale(0.85,1) translate(-681.11,0)">May</text>
<text x="699.47" y="447.80" font-size="7" fill="#1e1e1e" stroke="#1e1e1e" stroke-width="0.25" text-anchor="middle" transform="translate(699.47,0) scale(0.85,1) translate(-699.47,0)">Jun</text>
<text x="717.83" y="447.80" font-size="7" fill="#1e1e1e" stroke="#1e1e1e" stroke-width="0.25" text-anchor="middle" transform="translate(717.83,0) scale(0.85,1) translate(-717.83,0)">Jul</text>
<text x="736.19" y="447.80" font-size="7" fill="#1e1e1e" stroke="#1e1e1e" stroke-width="0.25" text-anchor="middle" transform="translate(736.19,0) scale(0.85,1) translate(-736.19,0)">Aug</text>
<text x="754.55" y="447.80" font-size="7" fill="#1e1e1e" stroke="#1e1e1e" stroke-width="0.25" text-anchor="middle" transform="translate(754.55,0) scale(0.85,1) translate(-754.55,0)">Sep</text>
<text x="772.90" y="447.80" font-size="7" fill="#1e1e1e" stroke="#1e1e1e" stroke-width="0.25" text-anchor="middle" transform="translate(772.90,0) scale(0.85,1) translate(-772.90,0)">Oct</text>
<text x="791.26" y="447.80" font-size="7" fill="#1e1e1e" stroke="#1e1e1e" stroke-width="0.25" text-anchor="middle" transform="translate(791.26,0) scale(0.85,1) translate(-791.26,0)">Nov</text>
<text x="809.62" y="447.80" font-size="7" fill="#1e1e1e" stroke="#1e1e1e" stroke-width="0.25" text-anchor="middle" transform="translate(809.62,0) scale(0.85,1) translate(-809.62,0)">Dec</text>
<rect x="602.90" y="408.10" width="9.20" height="29.90" fill="url(#gTl)"/>
<rect x="603.30" y="408.50" width="8.40" height="29.50" fill="none" stroke="#000" stroke-opacity="0.16" stroke-width="0.8"/>
<rect x="621.26" y="402.80" width="9.20" height="35.20" fill="url(#gTl)"/>
<rect x="621.66" y="403.20" width="8.40" height="34.80" fill="none" stroke="#000" stroke-opacity="0.16" stroke-width="0.8"/>
<rect x="639.62" y="332.30" width="9.20" height="105.70" fill="url(#gTl)"/>
<rect x="640.02" y="332.70" width="8.40" height="105.30" fill="none" stroke="#000" stroke-opacity="0.16" stroke-width="0.8"/>
<rect x="657.98" y="391.50" width="9.20" height="46.50" fill="url(#gTl)"/>
<rect x="658.38" y="391.90" width="8.40" height="46.10" fill="none" stroke="#000" stroke-opacity="0.16" stroke-width="0.8"/>
<rect x="676.33" y="403.80" width="9.20" height="34.20" fill="url(#gTl)"/>
<rect x="676.73" y="404.20" width="8.40" height="33.80" fill="none" stroke="#000" stroke-opacity="0.16" stroke-width="0.8"/>
<rect x="694.69" y="407.10" width="9.20" height="30.90" fill="url(#gTl)"/>
<rect x="695.09" y="407.50" width="8.40" height="30.50" fill="none" stroke="#000" stroke-opacity="0.16" stroke-width="0.8"/>
<rect x="713.05" y="409.10" width="9.20" height="28.90" fill="url(#gTl)"/>
<rect x="713.45" y="409.50" width="8.40" height="28.50" fill="none" stroke="#000" stroke-opacity="0.16" stroke-width="0.8"/>
<rect x="731.41" y="385.90" width="9.20" height="52.10" fill="url(#gTl)"/>
<rect x="731.81" y="386.30" width="8.40" height="51.70" fill="none" stroke="#000" stroke-opacity="0.16" stroke-width="0.8"/>
<rect x="749.77" y="403.40" width="9.20" height="34.60" fill="url(#gTl)"/>
<rect x="750.17" y="403.80" width="8.40" height="34.20" fill="none" stroke="#000" stroke-opacity="0.16" stroke-width="0.8"/>
<rect x="768.12" y="415.40" width="9.20" height="22.60" fill="url(#gTl)"/>
<rect x="768.52" y="415.80" width="8.40" height="22.20" fill="none" stroke="#000" stroke-opacity="0.16" stroke-width="0.8"/>
<rect x="786.48" y="411.40" width="9.20" height="26.60" fill="url(#gTl)"/>
<rect x="786.88" y="411.80" width="8.40" height="26.20" fill="none" stroke="#000" stroke-opacity="0.16" stroke-width="0.8"/>
<rect x="804.84" y="420.70" width="9.20" height="17.30" fill="url(#gTl)"/>
<rect x="805.24" y="421.10" width="8.40" height="16.90" fill="none" stroke="#000" stroke-opacity="0.16" stroke-width="0.8"/>
<text x="34.40" y="467.90" font-size="9.4" fill="#222" stroke="#222" stroke-width="0.12" transform="translate(34.40,0) scale(0.992,1) translate(-34.40,0)">Profits and losses by hours</text>
<rect x="32" y="474" width="224" height="1" fill="#b9b9b9"/>
<rect x="32" y="487" width="224" height="1" fill="#b9b9b9"/>
<rect x="32" y="501" width="224" height="1" fill="#b9b9b9"/>
<rect x="32" y="514" width="224" height="1" fill="#b9b9b9"/>
<rect x="32" y="527" width="224" height="1" fill="#b9b9b9"/>
<rect x="32" y="540" width="224" height="1" fill="#b9b9b9"/>
<rect x="32" y="553" width="224" height="1" fill="#b9b9b9"/>
<rect x="32" y="567" width="224" height="1" fill="#b9b9b9"/>
<rect x="32" y="580" width="224" height="1" fill="#b9b9b9"/>
<text x="25.70" y="476.40" font-size="7" fill="#1e1e1e" stroke="#1e1e1e" stroke-width="0.25" text-anchor="end" transform="translate(25.70,0) scale(0.83,1) translate(-25.70,0)">18000</text>
<text x="25.70" y="489.60" font-size="7" fill="#1e1e1e" stroke="#1e1e1e" stroke-width="0.25" text-anchor="end" transform="translate(25.70,0) scale(0.83,1) translate(-25.70,0)">15750</text>
<text x="25.70" y="502.80" font-size="7" fill="#1e1e1e" stroke="#1e1e1e" stroke-width="0.25" text-anchor="end" transform="translate(25.70,0) scale(0.83,1) translate(-25.70,0)">13500</text>
<text x="25.70" y="516.00" font-size="7" fill="#1e1e1e" stroke="#1e1e1e" stroke-width="0.25" text-anchor="end" transform="translate(25.70,0) scale(0.83,1) translate(-25.70,0)">11250</text>
<text x="25.70" y="529.20" font-size="7" fill="#1e1e1e" stroke="#1e1e1e" stroke-width="0.25" text-anchor="end" transform="translate(25.70,0) scale(0.83,1) translate(-25.70,0)">9000</text>
<text x="25.70" y="542.40" font-size="7" fill="#1e1e1e" stroke="#1e1e1e" stroke-width="0.25" text-anchor="end" transform="translate(25.70,0) scale(0.83,1) translate(-25.70,0)">6750</text>
<text x="25.70" y="555.60" font-size="7" fill="#1e1e1e" stroke="#1e1e1e" stroke-width="0.25" text-anchor="end" transform="translate(25.70,0) scale(0.83,1) translate(-25.70,0)">4500</text>
<text x="25.70" y="568.80" font-size="7" fill="#1e1e1e" stroke="#1e1e1e" stroke-width="0.25" text-anchor="end" transform="translate(25.70,0) scale(0.83,1) translate(-25.70,0)">2250</text>
<text x="25.70" y="582.00" font-size="7" fill="#1e1e1e" stroke="#1e1e1e" stroke-width="0.25" text-anchor="end" transform="translate(25.70,0) scale(0.83,1) translate(-25.70,0)">0</text>
<rect x="36" y="474" width="1" height="111" fill="#a4a4a4"/>
<rect x="32" y="580" width="224" height="1" fill="#a4a4a4"/>
<rect x="36" y="581" width="1" height="4" fill="#b4b8c0"/>
<rect x="45" y="581" width="1" height="4" fill="#b4b8c0"/>
<rect x="54" y="581" width="1" height="4" fill="#b4b8c0"/>
<rect x="63" y="581" width="1" height="4" fill="#b4b8c0"/>
<rect x="73" y="581" width="1" height="4" fill="#b4b8c0"/>
<rect x="82" y="581" width="1" height="4" fill="#b4b8c0"/>
<rect x="91" y="581" width="1" height="4" fill="#b4b8c0"/>
<rect x="100" y="581" width="1" height="4" fill="#b4b8c0"/>
<rect x="109" y="581" width="1" height="4" fill="#b4b8c0"/>
<rect x="118" y="581" width="1" height="4" fill="#b4b8c0"/>
<rect x="127" y="581" width="1" height="4" fill="#b4b8c0"/>
<rect x="137" y="581" width="1" height="4" fill="#b4b8c0"/>
<rect x="146" y="581" width="1" height="4" fill="#b4b8c0"/>
<rect x="155" y="581" width="1" height="4" fill="#b4b8c0"/>
<rect x="164" y="581" width="1" height="4" fill="#b4b8c0"/>
<rect x="173" y="581" width="1" height="4" fill="#b4b8c0"/>
<rect x="182" y="581" width="1" height="4" fill="#b4b8c0"/>
<rect x="191" y="581" width="1" height="4" fill="#b4b8c0"/>
<rect x="201" y="581" width="1" height="4" fill="#b4b8c0"/>
<rect x="210" y="581" width="1" height="4" fill="#b4b8c0"/>
<rect x="219" y="581" width="1" height="4" fill="#b4b8c0"/>
<rect x="228" y="581" width="1" height="4" fill="#b4b8c0"/>
<rect x="237" y="581" width="1" height="4" fill="#b4b8c0"/>
<rect x="246" y="581" width="1" height="4" fill="#b4b8c0"/>
<rect x="256" y="581" width="1" height="4" fill="#b4b8c0"/>
<text x="37.10" y="590.00" font-size="7" fill="#1e1e1e" stroke="#1e1e1e" stroke-width="0.25" transform="translate(37.10,0) scale(0.85,1) translate(-37.10,0)">0</text>
<text x="46.25" y="590.00" font-size="7" fill="#1e1e1e" stroke="#1e1e1e" stroke-width="0.25" transform="translate(46.25,0) scale(0.85,1) translate(-46.25,0)">1</text>
<text x="55.39" y="590.00" font-size="7" fill="#1e1e1e" stroke="#1e1e1e" stroke-width="0.25" transform="translate(55.39,0) scale(0.85,1) translate(-55.39,0)">2</text>
<text x="64.54" y="590.00" font-size="7" fill="#1e1e1e" stroke="#1e1e1e" stroke-width="0.25" transform="translate(64.54,0) scale(0.85,1) translate(-64.54,0)">3</text>
<text x="73.68" y="590.00" font-size="7" fill="#1e1e1e" stroke="#1e1e1e" stroke-width="0.25" transform="translate(73.68,0) scale(0.85,1) translate(-73.68,0)">4</text>
<text x="82.83" y="590.00" font-size="7" fill="#1e1e1e" stroke="#1e1e1e" stroke-width="0.25" transform="translate(82.83,0) scale(0.85,1) translate(-82.83,0)">5</text>
<text x="91.97" y="590.00" font-size="7" fill="#1e1e1e" stroke="#1e1e1e" stroke-width="0.25" transform="translate(91.97,0) scale(0.85,1) translate(-91.97,0)">6</text>
<text x="101.12" y="590.00" font-size="7" fill="#1e1e1e" stroke="#1e1e1e" stroke-width="0.25" transform="translate(101.12,0) scale(0.85,1) translate(-101.12,0)">7</text>
<text x="110.27" y="590.00" font-size="7" fill="#1e1e1e" stroke="#1e1e1e" stroke-width="0.25" transform="translate(110.27,0) scale(0.85,1) translate(-110.27,0)">8</text>
<text x="119.41" y="590.00" font-size="7" fill="#1e1e1e" stroke="#1e1e1e" stroke-width="0.25" transform="translate(119.41,0) scale(0.85,1) translate(-119.41,0)">9</text>
<text x="128.56" y="590.00" font-size="7" fill="#1e1e1e" stroke="#1e1e1e" stroke-width="0.25" transform="translate(128.56,0) scale(0.85,1) translate(-128.56,0)">10</text>
<text x="137.70" y="590.00" font-size="7" fill="#1e1e1e" stroke="#1e1e1e" stroke-width="0.25" transform="translate(137.70,0) scale(0.85,1) translate(-137.70,0)">11</text>
<text x="146.85" y="590.00" font-size="7" fill="#1e1e1e" stroke="#1e1e1e" stroke-width="0.25" transform="translate(146.85,0) scale(0.85,1) translate(-146.85,0)">12</text>
<text x="156.00" y="590.00" font-size="7" fill="#1e1e1e" stroke="#1e1e1e" stroke-width="0.25" transform="translate(156.00,0) scale(0.85,1) translate(-156.00,0)">13</text>
<text x="165.14" y="590.00" font-size="7" fill="#1e1e1e" stroke="#1e1e1e" stroke-width="0.25" transform="translate(165.14,0) scale(0.85,1) translate(-165.14,0)">14</text>
<text x="174.29" y="590.00" font-size="7" fill="#1e1e1e" stroke="#1e1e1e" stroke-width="0.25" transform="translate(174.29,0) scale(0.85,1) translate(-174.29,0)">15</text>
<text x="183.43" y="590.00" font-size="7" fill="#1e1e1e" stroke="#1e1e1e" stroke-width="0.25" transform="translate(183.43,0) scale(0.85,1) translate(-183.43,0)">16</text>
<text x="192.58" y="590.00" font-size="7" fill="#1e1e1e" stroke="#1e1e1e" stroke-width="0.25" transform="translate(192.58,0) scale(0.85,1) translate(-192.58,0)">17</text>
<text x="201.72" y="590.00" font-size="7" fill="#1e1e1e" stroke="#1e1e1e" stroke-width="0.25" transform="translate(201.72,0) scale(0.85,1) translate(-201.72,0)">18</text>
<text x="210.87" y="590.00" font-size="7" fill="#1e1e1e" stroke="#1e1e1e" stroke-width="0.25" transform="translate(210.87,0) scale(0.85,1) translate(-210.87,0)">19</text>
<text x="220.02" y="590.00" font-size="7" fill="#1e1e1e" stroke="#1e1e1e" stroke-width="0.25" transform="translate(220.02,0) scale(0.85,1) translate(-220.02,0)">20</text>
<text x="229.16" y="590.00" font-size="7" fill="#1e1e1e" stroke="#1e1e1e" stroke-width="0.25" transform="translate(229.16,0) scale(0.85,1) translate(-229.16,0)">21</text>
<text x="238.31" y="590.00" font-size="7" fill="#1e1e1e" stroke="#1e1e1e" stroke-width="0.25" transform="translate(238.31,0) scale(0.85,1) translate(-238.31,0)">22</text>
<text x="247.45" y="590.00" font-size="7" fill="#1e1e1e" stroke="#1e1e1e" stroke-width="0.25" transform="translate(247.45,0) scale(0.85,1) translate(-247.45,0)">23</text>
<rect x="64.04" y="569.70" width="3.50" height="10.30" fill="url(#gBl)"/>
<rect x="64.44" y="570.10" width="2.70" height="9.90" fill="none" stroke="#000" stroke-opacity="0.16" stroke-width="0.8"/>
<rect x="68.14" y="571.80" width="3.20" height="8.20" fill="url(#gRl)"/>
<rect x="68.54" y="572.20" width="2.40" height="7.80" fill="none" stroke="#000" stroke-opacity="0.16" stroke-width="0.8"/>
<rect x="73.18" y="564.30" width="3.50" height="15.70" fill="url(#gBl)"/>
<rect x="73.58" y="564.70" width="2.70" height="15.30" fill="none" stroke="#000" stroke-opacity="0.16" stroke-width="0.8"/>
<rect x="77.28" y="569.70" width="3.20" height="10.30" fill="url(#gRl)"/>
<rect x="77.68" y="570.10" width="2.40" height="9.90" fill="none" stroke="#000" stroke-opacity="0.16" stroke-width="0.8"/>
<rect x="82.33" y="568.50" width="3.50" height="11.50" fill="url(#gBl)"/>
<rect x="82.73" y="568.90" width="2.70" height="11.10" fill="none" stroke="#000" stroke-opacity="0.16" stroke-width="0.8"/>
<rect x="86.43" y="571.80" width="3.20" height="8.20" fill="url(#gRl)"/>
<rect x="86.83" y="572.20" width="2.40" height="7.80" fill="none" stroke="#000" stroke-opacity="0.16" stroke-width="0.8"/>
<rect x="91.47" y="572.70" width="3.50" height="7.30" fill="url(#gBl)"/>
<rect x="91.88" y="573.10" width="2.70" height="6.90" fill="none" stroke="#000" stroke-opacity="0.16" stroke-width="0.8"/>
<rect x="95.57" y="574.30" width="3.20" height="5.70" fill="url(#gRl)"/>
<rect x="95.97" y="574.70" width="2.40" height="5.30" fill="none" stroke="#000" stroke-opacity="0.16" stroke-width="0.8"/>
<rect x="100.62" y="577.70" width="3.50" height="2.30" fill="url(#gBl)"/>
<rect x="101.02" y="578.10" width="2.70" height="1.90" fill="none" stroke="#000" stroke-opacity="0.16" stroke-width="0.8"/>
<rect x="104.72" y="578.50" width="3.20" height="1.50" fill="url(#gRl)"/>
<rect x="105.12" y="578.90" width="2.40" height="1.10" fill="none" stroke="#000" stroke-opacity="0.16" stroke-width="0.8"/>
<rect x="109.77" y="576.40" width="3.50" height="3.60" fill="url(#gBl)"/>
<rect x="110.17" y="576.80" width="2.70" height="3.20" fill="none" stroke="#000" stroke-opacity="0.16" stroke-width="0.8"/>
<rect x="113.87" y="578.20" width="3.20" height="1.80" fill="url(#gRl)"/>
<rect x="114.27" y="578.60" width="2.40" height="1.40" fill="none" stroke="#000" stroke-opacity="0.16" stroke-width="0.8"/>
<rect x="118.91" y="569.80" width="3.50" height="10.20" fill="url(#gBl)"/>
<rect x="119.31" y="570.20" width="2.70" height="9.80" fill="none" stroke="#000" stroke-opacity="0.16" stroke-width="0.8"/>
<rect x="123.01" y="575.20" width="3.20" height="4.80" fill="url(#gRl)"/>
<rect x="123.41" y="575.60" width="2.40" height="4.40" fill="none" stroke="#000" stroke-opacity="0.16" stroke-width="0.8"/>
<rect x="128.06" y="559.50" width="3.50" height="20.50" fill="url(#gBl)"/>
<rect x="128.46" y="559.90" width="2.70" height="20.10" fill="none" stroke="#000" stroke-opacity="0.16" stroke-width="0.8"/>
<rect x="132.16" y="568.50" width="3.20" height="11.50" fill="url(#gRl)"/>
<rect x="132.56" y="568.90" width="2.40" height="11.10" fill="none" stroke="#000" stroke-opacity="0.16" stroke-width="0.8"/>
<rect x="137.20" y="567.80" width="3.50" height="12.20" fill="url(#gBl)"/>
<rect x="137.60" y="568.20" width="2.70" height="11.80" fill="none" stroke="#000" stroke-opacity="0.16" stroke-width="0.8"/>
<rect x="141.30" y="574.30" width="3.20" height="5.70" fill="url(#gRl)"/>
<rect x="141.70" y="574.70" width="2.40" height="5.30" fill="none" stroke="#000" stroke-opacity="0.16" stroke-width="0.8"/>
<rect x="146.35" y="560.30" width="3.50" height="19.70" fill="url(#gBl)"/>
<rect x="146.75" y="560.70" width="2.70" height="19.30" fill="none" stroke="#000" stroke-opacity="0.16" stroke-width="0.8"/>
<rect x="150.45" y="566.20" width="3.20" height="13.80" fill="url(#gRl)"/>
<rect x="150.85" y="566.60" width="2.40" height="13.40" fill="none" stroke="#000" stroke-opacity="0.16" stroke-width="0.8"/>
<rect x="155.50" y="567.30" width="3.50" height="12.70" fill="url(#gBl)"/>
<rect x="155.90" y="567.70" width="2.70" height="12.30" fill="none" stroke="#000" stroke-opacity="0.16" stroke-width="0.8"/>
<rect x="159.60" y="572.50" width="3.20" height="7.50" fill="url(#gRl)"/>
<rect x="160.00" y="572.90" width="2.40" height="7.10" fill="none" stroke="#000" stroke-opacity="0.16" stroke-width="0.8"/>
<rect x="164.64" y="558.70" width="3.50" height="21.30" fill="url(#gBl)"/>
<rect x="165.04" y="559.10" width="2.70" height="20.90" fill="none" stroke="#000" stroke-opacity="0.16" stroke-width="0.8"/>
<rect x="168.74" y="565.00" width="3.20" height="15.00" fill="url(#gRl)"/>
<rect x="169.14" y="565.40" width="2.40" height="14.60" fill="none" stroke="#000" stroke-opacity="0.16" stroke-width="0.8"/>
<rect x="173.79" y="535.10" width="3.50" height="44.90" fill="url(#gBl)"/>
<rect x="174.19" y="535.50" width="2.70" height="44.50" fill="none" stroke="#000" stroke-opacity="0.16" stroke-width="0.8"/>
<rect x="177.89" y="557.50" width="3.20" height="22.50" fill="url(#gRl)"/>
<rect x="178.29" y="557.90" width="2.40" height="22.10" fill="none" stroke="#000" stroke-opacity="0.16" stroke-width="0.8"/>
<rect x="182.93" y="499.50" width="3.50" height="80.50" fill="url(#gBl)"/>
<rect x="183.33" y="499.90" width="2.70" height="80.10" fill="none" stroke="#000" stroke-opacity="0.16" stroke-width="0.8"/>
<rect x="187.03" y="531.60" width="3.20" height="48.40" fill="url(#gRl)"/>
<rect x="187.43" y="532.00" width="2.40" height="48.00" fill="none" stroke="#000" stroke-opacity="0.16" stroke-width="0.8"/>
<rect x="192.08" y="474.60" width="3.50" height="105.40" fill="url(#gBl)"/>
<rect x="192.48" y="475.00" width="2.70" height="105.00" fill="none" stroke="#000" stroke-opacity="0.16" stroke-width="0.8"/>
<rect x="196.18" y="509.50" width="3.20" height="70.50" fill="url(#gRl)"/>
<rect x="196.58" y="509.90" width="2.40" height="70.10" fill="none" stroke="#000" stroke-opacity="0.16" stroke-width="0.8"/>
<rect x="201.22" y="532.30" width="3.50" height="47.70" fill="url(#gBl)"/>
<rect x="201.62" y="532.70" width="2.70" height="47.30" fill="none" stroke="#000" stroke-opacity="0.16" stroke-width="0.8"/>
<rect x="205.32" y="549.10" width="3.20" height="30.90" fill="url(#gRl)"/>
<rect x="205.72" y="549.50" width="2.40" height="30.50" fill="none" stroke="#000" stroke-opacity="0.16" stroke-width="0.8"/>
<rect x="210.37" y="561.00" width="3.50" height="19.00" fill="url(#gBl)"/>
<rect x="210.77" y="561.40" width="2.70" height="18.60" fill="none" stroke="#000" stroke-opacity="0.16" stroke-width="0.8"/>
<rect x="214.47" y="569.20" width="3.20" height="10.80" fill="url(#gRl)"/>
<rect x="214.87" y="569.60" width="2.40" height="10.40" fill="none" stroke="#000" stroke-opacity="0.16" stroke-width="0.8"/>
<rect x="219.52" y="553.80" width="3.50" height="26.20" fill="url(#gBl)"/>
<rect x="219.92" y="554.20" width="2.70" height="25.80" fill="none" stroke="#000" stroke-opacity="0.16" stroke-width="0.8"/>
<rect x="223.62" y="553.80" width="3.20" height="26.20" fill="url(#gRl)"/>
<rect x="224.02" y="554.20" width="2.40" height="25.80" fill="none" stroke="#000" stroke-opacity="0.16" stroke-width="0.8"/>
<rect x="228.66" y="572.00" width="3.50" height="8.00" fill="url(#gBl)"/>
<rect x="229.06" y="572.40" width="2.70" height="7.60" fill="none" stroke="#000" stroke-opacity="0.16" stroke-width="0.8"/>
<rect x="232.76" y="572.00" width="3.20" height="8.00" fill="url(#gRl)"/>
<rect x="233.16" y="572.40" width="2.40" height="7.60" fill="none" stroke="#000" stroke-opacity="0.16" stroke-width="0.8"/>
<rect x="237.81" y="572.50" width="3.50" height="7.50" fill="url(#gBl)"/>
<rect x="238.21" y="572.90" width="2.70" height="7.10" fill="none" stroke="#000" stroke-opacity="0.16" stroke-width="0.8"/>
<rect x="241.91" y="572.50" width="3.20" height="7.50" fill="url(#gRl)"/>
<rect x="242.31" y="572.90" width="2.40" height="7.10" fill="none" stroke="#000" stroke-opacity="0.16" stroke-width="0.8"/>
<text x="315.40" y="467.90" font-size="9.4" fill="#222" stroke="#222" stroke-width="0.12" transform="translate(315.40,0) scale(0.992,1) translate(-315.40,0)">Profits and losses by weekdays</text>
<rect x="313" y="474" width="215" height="1" fill="#b9b9b9"/>
<rect x="313" y="487" width="215" height="1" fill="#b9b9b9"/>
<rect x="313" y="501" width="215" height="1" fill="#b9b9b9"/>
<rect x="313" y="514" width="215" height="1" fill="#b9b9b9"/>
<rect x="313" y="527" width="215" height="1" fill="#b9b9b9"/>
<rect x="313" y="540" width="215" height="1" fill="#b9b9b9"/>
<rect x="313" y="553" width="215" height="1" fill="#b9b9b9"/>
<rect x="313" y="567" width="215" height="1" fill="#b9b9b9"/>
<rect x="313" y="580" width="215" height="1" fill="#b9b9b9"/>
<text x="307.40" y="476.40" font-size="7" fill="#1e1e1e" stroke="#1e1e1e" stroke-width="0.25" text-anchor="end" transform="translate(307.40,0) scale(0.83,1) translate(-307.40,0)">20000</text>
<text x="307.40" y="489.60" font-size="7" fill="#1e1e1e" stroke="#1e1e1e" stroke-width="0.25" text-anchor="end" transform="translate(307.40,0) scale(0.83,1) translate(-307.40,0)">17500</text>
<text x="307.40" y="502.80" font-size="7" fill="#1e1e1e" stroke="#1e1e1e" stroke-width="0.25" text-anchor="end" transform="translate(307.40,0) scale(0.83,1) translate(-307.40,0)">15000</text>
<text x="307.40" y="516.00" font-size="7" fill="#1e1e1e" stroke="#1e1e1e" stroke-width="0.25" text-anchor="end" transform="translate(307.40,0) scale(0.83,1) translate(-307.40,0)">12500</text>
<text x="307.40" y="529.20" font-size="7" fill="#1e1e1e" stroke="#1e1e1e" stroke-width="0.25" text-anchor="end" transform="translate(307.40,0) scale(0.83,1) translate(-307.40,0)">10000</text>
<text x="307.40" y="542.40" font-size="7" fill="#1e1e1e" stroke="#1e1e1e" stroke-width="0.25" text-anchor="end" transform="translate(307.40,0) scale(0.83,1) translate(-307.40,0)">7500</text>
<text x="307.40" y="555.60" font-size="7" fill="#1e1e1e" stroke="#1e1e1e" stroke-width="0.25" text-anchor="end" transform="translate(307.40,0) scale(0.83,1) translate(-307.40,0)">5000</text>
<text x="307.40" y="568.80" font-size="7" fill="#1e1e1e" stroke="#1e1e1e" stroke-width="0.25" text-anchor="end" transform="translate(307.40,0) scale(0.83,1) translate(-307.40,0)">2500</text>
<text x="307.40" y="582.00" font-size="7" fill="#1e1e1e" stroke="#1e1e1e" stroke-width="0.25" text-anchor="end" transform="translate(307.40,0) scale(0.83,1) translate(-307.40,0)">0</text>
<rect x="317" y="474" width="1" height="111" fill="#a4a4a4"/>
<rect x="313" y="580" width="215" height="1" fill="#a4a4a4"/>
<rect x="317" y="581" width="1" height="4" fill="#b4b8c0"/>
<rect x="347" y="581" width="1" height="4" fill="#b4b8c0"/>
<rect x="377" y="581" width="1" height="4" fill="#b4b8c0"/>
<rect x="407" y="581" width="1" height="4" fill="#b4b8c0"/>
<rect x="437" y="581" width="1" height="4" fill="#b4b8c0"/>
<rect x="467" y="581" width="1" height="4" fill="#b4b8c0"/>
<rect x="497" y="581" width="1" height="4" fill="#b4b8c0"/>
<rect x="527" y="581" width="1" height="4" fill="#b4b8c0"/>
<text x="331.70" y="590.00" font-size="7" fill="#1e1e1e" stroke="#1e1e1e" stroke-width="0.25" text-anchor="middle" transform="translate(331.70,0) scale(0.85,1) translate(-331.70,0)">Sun</text>
<text x="361.70" y="590.00" font-size="7" fill="#1e1e1e" stroke="#1e1e1e" stroke-width="0.25" text-anchor="middle" transform="translate(361.70,0) scale(0.85,1) translate(-361.70,0)">Mon</text>
<text x="391.70" y="590.00" font-size="7" fill="#1e1e1e" stroke="#1e1e1e" stroke-width="0.25" text-anchor="middle" transform="translate(391.70,0) scale(0.85,1) translate(-391.70,0)">Tue</text>
<text x="421.70" y="590.00" font-size="7" fill="#1e1e1e" stroke="#1e1e1e" stroke-width="0.25" text-anchor="middle" transform="translate(421.70,0) scale(0.85,1) translate(-421.70,0)">Wed</text>
<text x="451.70" y="590.00" font-size="7" fill="#1e1e1e" stroke="#1e1e1e" stroke-width="0.25" text-anchor="middle" transform="translate(451.70,0) scale(0.85,1) translate(-451.70,0)">Thu</text>
<text x="481.70" y="590.00" font-size="7" fill="#1e1e1e" stroke="#1e1e1e" stroke-width="0.25" text-anchor="middle" transform="translate(481.70,0) scale(0.85,1) translate(-481.70,0)">Fri</text>
<text x="511.70" y="590.00" font-size="7" fill="#1e1e1e" stroke="#1e1e1e" stroke-width="0.25" text-anchor="middle" transform="translate(511.70,0) scale(0.85,1) translate(-511.70,0)">Sat</text>
<rect x="354.70" y="490.70" width="8.20" height="89.30" fill="url(#gBl)"/>
<rect x="355.10" y="491.10" width="7.40" height="88.90" fill="none" stroke="#000" stroke-opacity="0.16" stroke-width="0.8"/>
<rect x="362.90" y="518.30" width="8.20" height="61.70" fill="url(#gRl)"/>
<rect x="363.30" y="518.70" width="7.40" height="61.30" fill="none" stroke="#000" stroke-opacity="0.16" stroke-width="0.8"/>
<rect x="384.70" y="503.30" width="8.20" height="76.70" fill="url(#gBl)"/>
<rect x="385.10" y="503.70" width="7.40" height="76.30" fill="none" stroke="#000" stroke-opacity="0.16" stroke-width="0.8"/>
<rect x="392.90" y="535.20" width="8.20" height="44.80" fill="url(#gRl)"/>
<rect x="393.30" y="535.60" width="7.40" height="44.40" fill="none" stroke="#000" stroke-opacity="0.16" stroke-width="0.8"/>
<rect x="414.70" y="490.70" width="8.20" height="89.30" fill="url(#gBl)"/>
<rect x="415.10" y="491.10" width="7.40" height="88.90" fill="none" stroke="#000" stroke-opacity="0.16" stroke-width="0.8"/>
<rect x="422.90" y="520.90" width="8.20" height="59.10" fill="url(#gRl)"/>
<rect x="423.30" y="521.30" width="7.40" height="58.70" fill="none" stroke="#000" stroke-opacity="0.16" stroke-width="0.8"/>
<rect x="444.70" y="493.60" width="8.20" height="86.40" fill="url(#gBl)"/>
<rect x="445.10" y="494.00" width="7.40" height="86.00" fill="none" stroke="#000" stroke-opacity="0.16" stroke-width="0.8"/>
<rect x="452.90" y="526.50" width="8.20" height="53.50" fill="url(#gRl)"/>
<rect x="453.30" y="526.90" width="7.40" height="53.10" fill="none" stroke="#000" stroke-opacity="0.16" stroke-width="0.8"/>
<rect x="474.70" y="477.50" width="8.20" height="102.50" fill="url(#gBl)"/>
<rect x="475.10" y="477.90" width="7.40" height="102.10" fill="none" stroke="#000" stroke-opacity="0.16" stroke-width="0.8"/>
<rect x="482.90" y="508.10" width="8.20" height="71.90" fill="url(#gRl)"/>
<rect x="483.30" y="508.50" width="7.40" height="71.50" fill="none" stroke="#000" stroke-opacity="0.16" stroke-width="0.8"/>
<text x="596.40" y="467.90" font-size="9.4" fill="#222" stroke="#222" stroke-width="0.12" transform="translate(596.40,0) scale(0.992,1) translate(-596.40,0)">Profits and losses by months</text>
<rect x="594" y="474" width="225" height="1" fill="#b9b9b9"/>
<rect x="594" y="487" width="225" height="1" fill="#b9b9b9"/>
<rect x="594" y="501" width="225" height="1" fill="#b9b9b9"/>
<rect x="594" y="514" width="225" height="1" fill="#b9b9b9"/>
<rect x="594" y="527" width="225" height="1" fill="#b9b9b9"/>
<rect x="594" y="540" width="225" height="1" fill="#b9b9b9"/>
<rect x="594" y="553" width="225" height="1" fill="#b9b9b9"/>
<rect x="594" y="567" width="225" height="1" fill="#b9b9b9"/>
<rect x="594" y="580" width="225" height="1" fill="#b9b9b9"/>
<text x="588.30" y="476.40" font-size="7" fill="#1e1e1e" stroke="#1e1e1e" stroke-width="0.25" text-anchor="end" transform="translate(588.30,0) scale(0.83,1) translate(-588.30,0)">19000</text>
<text x="588.30" y="502.80" font-size="7" fill="#1e1e1e" stroke="#1e1e1e" stroke-width="0.25" text-anchor="end" transform="translate(588.30,0) scale(0.83,1) translate(-588.30,0)">14250</text>
<text x="588.30" y="529.20" font-size="7" fill="#1e1e1e" stroke="#1e1e1e" stroke-width="0.25" text-anchor="end" transform="translate(588.30,0) scale(0.83,1) translate(-588.30,0)">9500</text>
<text x="588.30" y="555.60" font-size="7" fill="#1e1e1e" stroke="#1e1e1e" stroke-width="0.25" text-anchor="end" transform="translate(588.30,0) scale(0.83,1) translate(-588.30,0)">4750</text>
<text x="588.30" y="582.00" font-size="7" fill="#1e1e1e" stroke="#1e1e1e" stroke-width="0.25" text-anchor="end" transform="translate(588.30,0) scale(0.83,1) translate(-588.30,0)">0</text>
<rect x="598" y="474" width="1" height="111" fill="#a4a4a4"/>
<rect x="594" y="580" width="225" height="1" fill="#a4a4a4"/>
<rect x="598" y="581" width="1" height="4" fill="#b4b8c0"/>
<rect x="616" y="581" width="1" height="4" fill="#b4b8c0"/>
<rect x="635" y="581" width="1" height="4" fill="#b4b8c0"/>
<rect x="653" y="581" width="1" height="4" fill="#b4b8c0"/>
<rect x="671" y="581" width="1" height="4" fill="#b4b8c0"/>
<rect x="690" y="581" width="1" height="4" fill="#b4b8c0"/>
<rect x="708" y="581" width="1" height="4" fill="#b4b8c0"/>
<rect x="726" y="581" width="1" height="4" fill="#b4b8c0"/>
<rect x="745" y="581" width="1" height="4" fill="#b4b8c0"/>
<rect x="763" y="581" width="1" height="4" fill="#b4b8c0"/>
<rect x="781" y="581" width="1" height="4" fill="#b4b8c0"/>
<rect x="799" y="581" width="1" height="4" fill="#b4b8c0"/>
<rect x="818" y="581" width="1" height="4" fill="#b4b8c0"/>
<text x="607.66" y="590.00" font-size="7" fill="#1e1e1e" stroke="#1e1e1e" stroke-width="0.25" text-anchor="middle" transform="translate(607.66,0) scale(0.85,1) translate(-607.66,0)">Jan</text>
<text x="625.97" y="590.00" font-size="7" fill="#1e1e1e" stroke="#1e1e1e" stroke-width="0.25" text-anchor="middle" transform="translate(625.97,0) scale(0.85,1) translate(-625.97,0)">Feb</text>
<text x="644.29" y="590.00" font-size="7" fill="#1e1e1e" stroke="#1e1e1e" stroke-width="0.25" text-anchor="middle" transform="translate(644.29,0) scale(0.85,1) translate(-644.29,0)">Mar</text>
<text x="662.61" y="590.00" font-size="7" fill="#1e1e1e" stroke="#1e1e1e" stroke-width="0.25" text-anchor="middle" transform="translate(662.61,0) scale(0.85,1) translate(-662.61,0)">Apr</text>
<text x="680.92" y="590.00" font-size="7" fill="#1e1e1e" stroke="#1e1e1e" stroke-width="0.25" text-anchor="middle" transform="translate(680.92,0) scale(0.85,1) translate(-680.92,0)">May</text>
<text x="699.24" y="590.00" font-size="7" fill="#1e1e1e" stroke="#1e1e1e" stroke-width="0.25" text-anchor="middle" transform="translate(699.24,0) scale(0.85,1) translate(-699.24,0)">Jun</text>
<text x="717.56" y="590.00" font-size="7" fill="#1e1e1e" stroke="#1e1e1e" stroke-width="0.25" text-anchor="middle" transform="translate(717.56,0) scale(0.85,1) translate(-717.56,0)">Jul</text>
<text x="735.88" y="590.00" font-size="7" fill="#1e1e1e" stroke="#1e1e1e" stroke-width="0.25" text-anchor="middle" transform="translate(735.88,0) scale(0.85,1) translate(-735.88,0)">Aug</text>
<text x="754.19" y="590.00" font-size="7" fill="#1e1e1e" stroke="#1e1e1e" stroke-width="0.25" text-anchor="middle" transform="translate(754.19,0) scale(0.85,1) translate(-754.19,0)">Sep</text>
<text x="772.51" y="590.00" font-size="7" fill="#1e1e1e" stroke="#1e1e1e" stroke-width="0.25" text-anchor="middle" transform="translate(772.51,0) scale(0.85,1) translate(-772.51,0)">Oct</text>
<text x="790.82" y="590.00" font-size="7" fill="#1e1e1e" stroke="#1e1e1e" stroke-width="0.25" text-anchor="middle" transform="translate(790.82,0) scale(0.85,1) translate(-790.82,0)">Nov</text>
<text x="809.14" y="590.00" font-size="7" fill="#1e1e1e" stroke="#1e1e1e" stroke-width="0.25" text-anchor="middle" transform="translate(809.14,0) scale(0.85,1) translate(-809.14,0)">Dec</text>
<rect x="602.80" y="553.60" width="4.40" height="26.40" fill="url(#gBl)"/>
<rect x="603.20" y="554.00" width="3.60" height="26.00" fill="none" stroke="#000" stroke-opacity="0.16" stroke-width="0.8"/>
<rect x="607.70" y="564.90" width="4.20" height="15.10" fill="url(#gRl)"/>
<rect x="608.10" y="565.30" width="3.40" height="14.70" fill="none" stroke="#000" stroke-opacity="0.16" stroke-width="0.8"/>
<rect x="621.12" y="540.70" width="4.40" height="39.30" fill="url(#gBl)"/>
<rect x="621.52" y="541.10" width="3.60" height="38.90" fill="none" stroke="#000" stroke-opacity="0.16" stroke-width="0.8"/>
<rect x="626.02" y="553.60" width="4.20" height="26.40" fill="url(#gRl)"/>
<rect x="626.42" y="554.00" width="3.40" height="26.00" fill="none" stroke="#000" stroke-opacity="0.16" stroke-width="0.8"/>
<rect x="639.43" y="479.90" width="4.40" height="100.10" fill="url(#gBl)"/>
<rect x="639.83" y="480.30" width="3.60" height="99.70" fill="none" stroke="#000" stroke-opacity="0.16" stroke-width="0.8"/>
<rect x="644.33" y="514.20" width="4.20" height="65.80" fill="url(#gRl)"/>
<rect x="644.73" y="514.60" width="3.40" height="65.40" fill="none" stroke="#000" stroke-opacity="0.16" stroke-width="0.8"/>
<rect x="657.75" y="541.00" width="4.40" height="39.00" fill="url(#gBl)"/>
<rect x="658.15" y="541.40" width="3.60" height="38.60" fill="none" stroke="#000" stroke-opacity="0.16" stroke-width="0.8"/>
<rect x="662.65" y="557.70" width="4.20" height="22.30" fill="url(#gRl)"/>
<rect x="663.05" y="558.10" width="3.40" height="21.90" fill="none" stroke="#000" stroke-opacity="0.16" stroke-width="0.8"/>
<rect x="676.07" y="546.10" width="4.40" height="33.90" fill="url(#gBl)"/>
<rect x="676.47" y="546.50" width="3.60" height="33.50" fill="none" stroke="#000" stroke-opacity="0.16" stroke-width="0.8"/>
<rect x="680.97" y="559.60" width="4.20" height="20.40" fill="url(#gRl)"/>
<rect x="681.37" y="560.00" width="3.40" height="20.00" fill="none" stroke="#000" stroke-opacity="0.16" stroke-width="0.8"/>
<rect x="694.38" y="537.90" width="4.40" height="42.10" fill="url(#gBl)"/>
<rect x="694.78" y="538.30" width="3.60" height="41.70" fill="none" stroke="#000" stroke-opacity="0.16" stroke-width="0.8"/>
<rect x="699.28" y="547.60" width="4.20" height="32.40" fill="url(#gRl)"/>
<rect x="699.68" y="548.00" width="3.40" height="32.00" fill="none" stroke="#000" stroke-opacity="0.16" stroke-width="0.8"/>
<rect x="712.70" y="547.60" width="4.40" height="32.40" fill="url(#gBl)"/>
<rect x="713.10" y="548.00" width="3.60" height="32.00" fill="none" stroke="#000" stroke-opacity="0.16" stroke-width="0.8"/>
<rect x="717.60" y="558.20" width="4.20" height="21.80" fill="url(#gRl)"/>
<rect x="718.00" y="558.60" width="3.40" height="21.40" fill="none" stroke="#000" stroke-opacity="0.16" stroke-width="0.8"/>
<rect x="731.02" y="534.10" width="4.40" height="45.90" fill="url(#gBl)"/>
<rect x="731.42" y="534.50" width="3.60" height="45.50" fill="none" stroke="#000" stroke-opacity="0.16" stroke-width="0.8"/>
<rect x="735.92" y="551.20" width="4.20" height="28.80" fill="url(#gRl)"/>
<rect x="736.32" y="551.60" width="3.40" height="28.40" fill="none" stroke="#000" stroke-opacity="0.16" stroke-width="0.8"/>
<rect x="749.33" y="543.20" width="4.40" height="36.80" fill="url(#gBl)"/>
<rect x="749.73" y="543.60" width="3.60" height="36.40" fill="none" stroke="#000" stroke-opacity="0.16" stroke-width="0.8"/>
<rect x="754.23" y="554.90" width="4.20" height="25.10" fill="url(#gRl)"/>
<rect x="754.63" y="555.30" width="3.40" height="24.70" fill="none" stroke="#000" stroke-opacity="0.16" stroke-width="0.8"/>
<rect x="767.65" y="559.00" width="4.40" height="21.00" fill="url(#gBl)"/>
<rect x="768.05" y="559.40" width="3.60" height="20.60" fill="none" stroke="#000" stroke-opacity="0.16" stroke-width="0.8"/>
<rect x="772.55" y="567.00" width="4.20" height="13.00" fill="url(#gRl)"/>
<rect x="772.95" y="567.40" width="3.40" height="12.60" fill="none" stroke="#000" stroke-opacity="0.16" stroke-width="0.8"/>
<rect x="785.97" y="546.90" width="4.40" height="33.10" fill="url(#gBl)"/>
<rect x="786.37" y="547.30" width="3.60" height="32.70" fill="none" stroke="#000" stroke-opacity="0.16" stroke-width="0.8"/>
<rect x="790.87" y="556.10" width="4.20" height="23.90" fill="url(#gRl)"/>
<rect x="791.27" y="556.50" width="3.40" height="23.50" fill="none" stroke="#000" stroke-opacity="0.16" stroke-width="0.8"/>
<rect x="804.28" y="564.30" width="4.40" height="15.70" fill="url(#gBl)"/>
<rect x="804.68" y="564.70" width="3.60" height="15.30" fill="none" stroke="#000" stroke-opacity="0.16" stroke-width="0.8"/>
<rect x="809.18" y="570.30" width="4.20" height="9.70" fill="url(#gRl)"/>
<rect x="809.58" y="570.70" width="3.40" height="9.30" fill="none" stroke="#000" stroke-opacity="0.16" stroke-width="0.8"/>
</svg>
</body></html>
